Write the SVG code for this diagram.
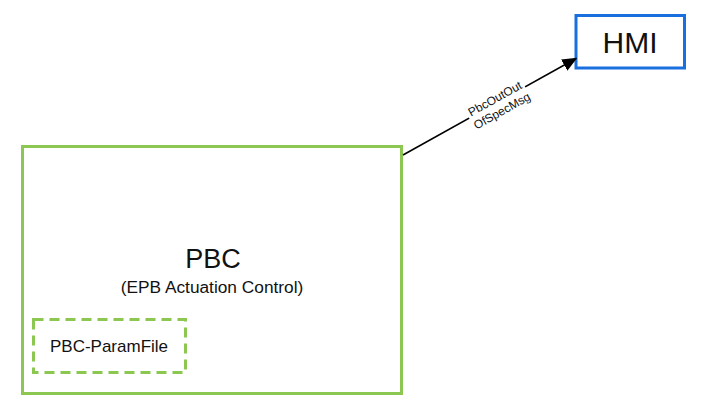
<svg xmlns="http://www.w3.org/2000/svg" width="702" height="403" viewBox="0 0 702 403">
<style>
text{font-family:"Liberation Sans",Arial,sans-serif;fill:#111;text-anchor:middle}
.green{fill:none;stroke:#8cc751;stroke-width:3}
.dash{stroke-dasharray:10,6}
.blue{fill:#fff;stroke:#1a6fdf;stroke-width:3}
.conn{stroke:#000;stroke-width:1.6;fill:none}
</style>
<defs>
<marker id="ah" viewBox="0 0 10 10" refX="9" refY="5" markerWidth="15" markerHeight="13" markerUnits="userSpaceOnUse" orient="auto" preserveAspectRatio="none">
<path d="M0,0 L10,5 L0,10 z" fill="#000"/>
</marker>
</defs>
<rect width="702" height="403" fill="#fff"/>
<g id="PBC">
<rect class="green" x="22.5" y="146.5" width="379" height="247"/>
<text x="213" y="268" font-size="27">PBC</text>
<text x="212" y="293" font-size="17.3">(EPB Actuation Control)</text>
</g>
<g id="PBC-ParamFile">
<rect class="green dash" x="33.5" y="319.5" width="152" height="53"/>
<text x="109" y="352" font-size="17">PBC-ParamFile</text>
</g>
<g id="HMI">
<rect class="blue" x="576" y="15.5" width="108.5" height="52.5"/>
<text x="630" y="53" font-size="30">HMI</text>
</g>
<g id="connectors">
<line class="conn" x1="403" y1="155" x2="576" y2="58.5" marker-end="url(#ah)"/>
<g transform="translate(498,104) rotate(-29.2)">
<rect x="-32" y="-15" width="64" height="30" fill="#fff"/>
<text x="0" y="-2" font-size="12">PbcOutOut</text>
<text x="0" y="12" font-size="12">OfSpecMsg</text>
</g>
</g>
</svg>
